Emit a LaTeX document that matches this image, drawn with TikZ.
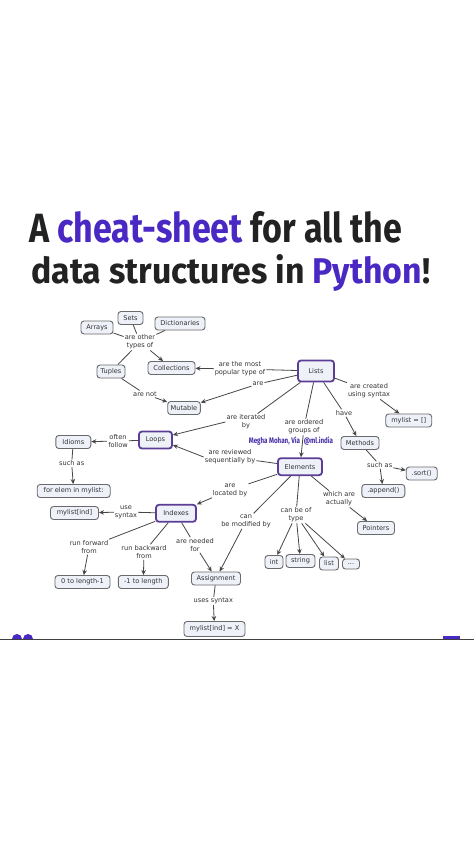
\documentclass[tikz,border=0pt]{standalone}
\usepackage{graphicx}
\usepackage{fontspec}
\setmainfont{DejaVu Sans}
\newfontfamily\titlefont{Fira Sans}
\usetikzlibrary{arrows.meta}
\definecolor{titlepurple}{RGB}{74,40,196}
\definecolor{titledark}{RGB}{34,34,34}
\definecolor{keyborder}{RGB}{92,62,150}
\definecolor{boxfill}{RGB}{238,241,247}
\definecolor{boxborder}{RGB}{105,105,110}
\definecolor{linkgray}{RGB}{70,70,70}
\definecolor{marktext}{RGB}{70,45,165}
\definecolor{conceptext}{RGB}{50,50,55}
\begin{document}
\begin{tikzpicture}[x=1pt,y=-1pt,
  concept/.style={draw=boxborder, line width=0.9pt, fill=boxfill, rounded corners=3pt,
    minimum height=13pt, inner xsep=3pt, inner ysep=1pt,
    font=\fontsize{6.6}{8}\selectfont, text=conceptext},
  keyconcept/.style={concept, draw=keyborder, line width=1.8pt, minimum height=17pt},
  linklabel/.style={inner sep=1pt, align=center, font=\fontsize{6.6}{8}\selectfont, text=conceptext},
  ln/.style={draw=linkgray, line width=0.8pt},
  arr/.style={ln, -{Stealth[length=5pt,width=4.5pt]}},
]
\fill[white] (0,0) rectangle (474,842);
\useasboundingbox (0,0) rectangle (474,842);

% title
\node[anchor=base west, inner sep=0, text=titledark] (title1) at (29,242)
  {\resizebox{373pt}{31pt}{\titlefont\bfseries A \textcolor{titlepurple}{cheat-sheet} for all the}};
\node[anchor=base west, inner sep=0, text=titledark] (title2) at (31,283)
  {\resizebox{399pt}{29pt}{\titlefont\bfseries data structures in \textcolor{titlepurple}{Python}!}};

% watermark
\node[inner sep=0, text=marktext] (mark) at (291,441)
  {\scalebox{0.78}[1]{\titlefont\bfseries\fontsize{8}{8}\selectfont Megha Mohan, Via\hspace{3pt} @ml.india}};

% concepts
\node[concept, minimum width=25pt] (Sets) at (130.5,318) {Sets};
\node[concept, minimum width=50pt] (Dictionaries) at (180,323.5) {Dictionaries};
\node[concept, minimum width=32pt] (Arrays) at (97,327.5) {Arrays};
\node[concept, minimum width=28pt] (Tuples) at (111,371.5) {Tuples};
\node[concept, minimum width=47pt] (Collections) at (171.5,368) {Collections};
\node[keyconcept, minimum width=36pt, minimum height=21pt] (Lists) at (316,371) {Lists};
\node[concept, minimum width=32pt] (Mutable) at (184,408) {Mutable};
\node[concept, minimum width=46pt] (mylist0) at (408.7,420.5) {mylist = []};
\node[concept, minimum width=38pt] (Methods) at (360,443) {Methods};
\node[concept, minimum width=35pt] (Idioms) at (73.3,442) {Idioms};
\node[keyconcept, minimum width=33pt] (Loops) at (155.5,440) {Loops};
\node[keyconcept, minimum width=44pt] (Elements) at (300,466.7) {Elements};
\node[concept, minimum width=31pt] (sort) at (421.7,473.5) {.sort()};
\node[concept, minimum width=43pt] (append) at (383.3,491) {.append()};
\node[concept, minimum width=73pt] (forelem) at (73.7,491) {for elem in mylist:};
\node[concept, minimum width=48pt] (mylistind) at (74.5,513) {mylist[ind]};
\node[keyconcept, minimum width=40pt] (Indexes) at (176,513.3) {Indexes};
\node[concept, minimum width=37pt] (Pointers) at (376,528) {Pointers};
\node[concept, minimum width=18pt] (int) at (274,562) {int};
\node[concept, minimum width=29pt] (string) at (300.5,561) {string};
\node[concept, minimum width=19pt] (list) at (329,563.5) {list};
\node[concept, minimum width=17pt, minimum height=10pt] (dots) at (351,564) {...};
\node[concept, minimum width=55pt] (zero) at (82.5,582) {0 to length-1};
\node[concept, minimum width=50pt] (minus) at (143.3,582) {-1 to length};
\node[concept, minimum width=49pt] (Assignment) at (216,578.5) {Assignment};
\node[concept, minimum width=61pt, minimum height=15pt] (assignx) at (214.5,629) {mylist[ind] = X};

% linking phrases
\node[linklabel] (lother) at (140,342) {are other\\types of};
\node[linklabel] (lpopular) at (240,369) {are the most\\popular type of};
\node[linklabel] (lare) at (258,384) {are};
\node[linklabel] (larenot) at (145,394) {are not};
\node[linklabel] (lcreated) at (369,391) {are created\\using syntax};
\node[linklabel] (lhave) at (344,413) {have};
\node[linklabel] (liter) at (246,422) {are iterated\\by};
\node[linklabel] (lordered) at (304,427) {are ordered\\groups of};
\node[linklabel] (loften) at (118,441) {often\\follow};
\node[linklabel] (lreviewed) at (230,457) {are reviewed\\sequentially by};
\node[linklabel] (lsuchA) at (71.7,463.3) {such as};
\node[linklabel] (lsuchB) at (379.7,465) {such as};
\node[linklabel] (llocated) at (230,490) {are\\located by};
\node[linklabel] (lactually) at (339,499) {which are\\actually};
\node[linklabel] (luse) at (126,512) {use\\syntax};
\node[linklabel] (lmodified) at (246,521) {can\\be modified by};
\node[linklabel] (ltype) at (296,515) {can be of\\type};
\node[linklabel] (lneeded) at (195,545) {are needed\\for};
\node[linklabel] (lforward) at (89,547) {run forward\\from};
\node[linklabel] (lbackward) at (144,552) {run backward\\from};
\node[linklabel] (luses) at (213.3,601) {uses syntax};

% connectors
\draw[ln] (Arrays) -- (lother);
\draw[ln] (Sets) -- (lother);
\draw[ln] (Dictionaries) -- (lother);
\draw[ln] (Tuples) -- (lother);
\draw[arr] (lother) -- (Collections);
\draw[ln] (Lists) -- (lpopular);
\draw[arr] (lpopular) -- (Collections);
\draw[ln] (Lists) -- (lare);
\draw[arr] (lare) -- (Mutable);
\draw[ln] (Tuples) -- (larenot);
\draw[arr] (larenot) -- (Mutable);
\draw[ln] (Lists) -- (lcreated);
\draw[arr] (lcreated) -- (mylist0);
\draw[ln] (Lists) -- (lhave);
\draw[arr] (lhave) -- (Methods);
\draw[ln] (Lists) -- (liter);
\draw[arr] (liter.west) -- ([yshift=5pt]Loops.east);
\draw[ln] (Lists) -- (lordered);
\draw[arr] (lordered) -- (Elements);
\draw[ln] (Loops) -- (loften);
\draw[arr] (loften) -- (Idioms);
\draw[ln] (Elements) -- (lreviewed);
\draw[arr] (lreviewed.west) -- ([yshift=-5pt]Loops.east);
\draw[ln] (Idioms) -- (lsuchA);
\draw[arr] (lsuchA) -- (forelem);
\draw[ln] (Methods) -- (lsuchB);
\draw[arr] (lsuchB) -- (sort);
\draw[arr] (lsuchB) -- (append);
\draw[ln] (Elements) -- (llocated);
\draw[arr] (llocated) -- (Indexes);
\draw[ln] (Elements) -- (lactually);
\draw[arr] (lactually) -- (Pointers);
\draw[ln] (Elements) -- (lmodified);
\draw[arr] (lmodified) -- (Assignment);
\draw[ln] (Elements) -- (ltype);
\draw[arr] (ltype) -- (int);
\draw[arr] (ltype) -- (string);
\draw[arr] (ltype) -- (list);
\draw[arr] (ltype) -- (dots);
\draw[ln] (Indexes) -- (luse);
\draw[arr] (luse) -- (mylistind);
\draw[ln] (Indexes) -- (lforward);
\draw[arr] (lforward) -- (zero);
\draw[ln] (Indexes) -- (lbackward);
\draw[arr] (lbackward) -- (minus);
\draw[ln] (Indexes) -- (lneeded);
\draw[arr] (lneeded) -- (Assignment);
\draw[ln] (Assignment) -- (luses);
\draw[arr] (luses) -- (assignx);

% cropped bottom edge
\fill[titlepurple] (12,639) arc[start angle=180, end angle=360, radius=5];
\fill[titlepurple] (23,639) arc[start angle=180, end angle=360, radius=5];
\fill[titlepurple] (443,636) rectangle (460,639);
\draw[line width=1.6pt, color=black!75] (0,639.5) -- (474,639.5);
\end{tikzpicture}
\end{document}
